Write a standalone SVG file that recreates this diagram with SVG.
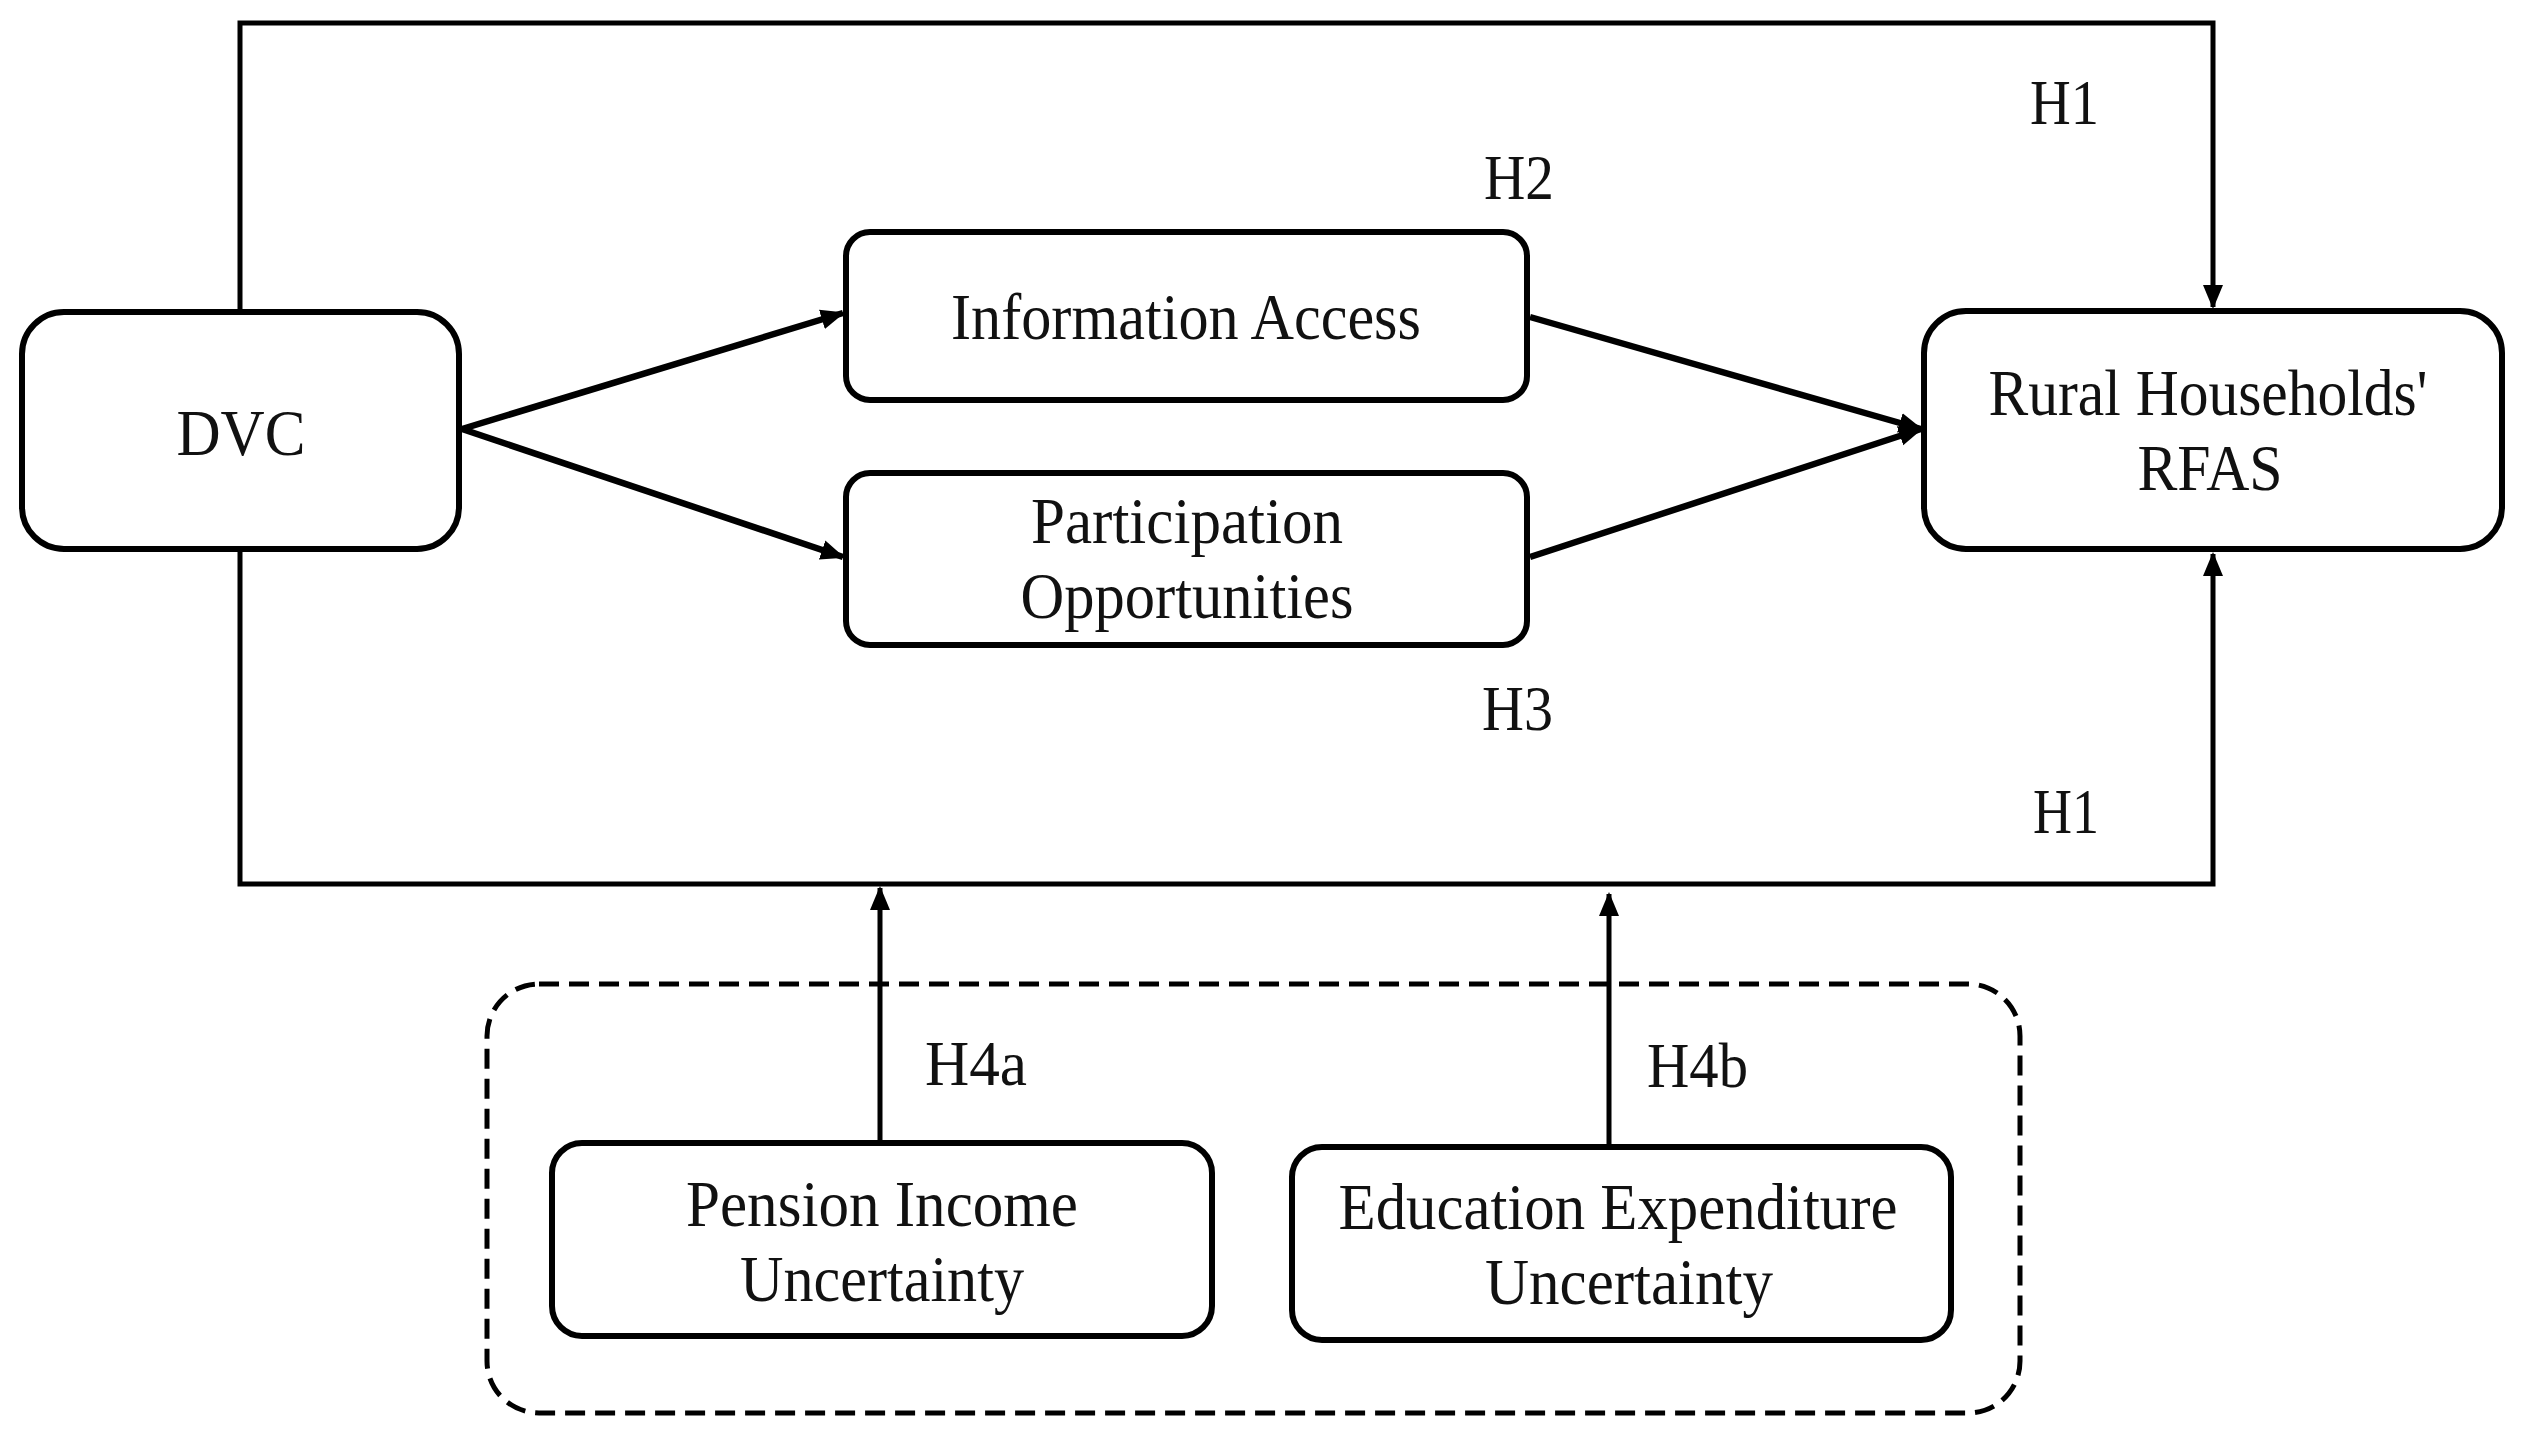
<svg xmlns="http://www.w3.org/2000/svg" width="2521" height="1439" viewBox="0 0 2521 1439">
<defs>
<marker id="arr" markerUnits="userSpaceOnUse" markerWidth="26" markerHeight="22" refX="22" refY="11" orient="auto">
<path d="M0,1 L24,11 L0,21 z" fill="#000"/>
</marker>
<style>
.box{fill:#fff;stroke:#000;stroke-width:6}
.dash{fill:none;stroke:#000;stroke-width:5;stroke-dasharray:20 10}
.con{fill:none;stroke:#000;stroke-width:5}
.thick{stroke-width:6.5}
.t{font-family:"Liberation Serif","Times New Roman",serif;font-size:66px;fill:#111;text-anchor:middle}
.h{font-family:"Liberation Serif","Times New Roman",serif;font-size:64px;fill:#111}
</style>
</defs>
<rect width="2521" height="1439" fill="#fff"/>

<g id="moderators-group">
<rect class="dash" x="487" y="984" width="1533" height="429" rx="52"/>
</g>

<g id="connectors">
<path class="con" d="M240,312 V23 H2213 V307" marker-end="url(#arr)"/>
<path class="con" d="M240,549 V884 H2213 V554" marker-end="url(#arr)"/>
<line class="con thick" x1="462" y1="429" x2="843" y2="313" marker-end="url(#arr)"/>
<line class="con thick" x1="462" y1="429" x2="843" y2="557" marker-end="url(#arr)"/>
<line class="con thick" x1="1530" y1="317" x2="1921" y2="429" marker-end="url(#arr)"/>
<line class="con thick" x1="1530" y1="557" x2="1921" y2="429" marker-end="url(#arr)"/>
<line class="con" x1="880" y1="1143" x2="880" y2="888" marker-end="url(#arr)"/>
<line class="con" x1="1609" y1="1147" x2="1609" y2="894" marker-end="url(#arr)"/>
</g>

<g id="labels">
<text class="h" x="2030" y="124" textLength="69" lengthAdjust="spacingAndGlyphs">H1</text>
<text class="h" x="1484" y="199" textLength="70" lengthAdjust="spacingAndGlyphs">H2</text>
<text class="h" x="1482" y="730" textLength="71" lengthAdjust="spacingAndGlyphs">H3</text>
<text class="h" x="2033" y="833" textLength="66" lengthAdjust="spacingAndGlyphs">H1</text>
<text class="h" x="925" y="1085" textLength="102" lengthAdjust="spacingAndGlyphs">H4a</text>
<text class="h" x="1647" y="1087" textLength="101" lengthAdjust="spacingAndGlyphs">H4b</text>
</g>

<g id="dvc">
<rect class="box" x="22" y="312" width="437" height="237" rx="42"/>
<text class="t" x="241" y="455" textLength="129" lengthAdjust="spacingAndGlyphs">DVC</text>
</g>

<g id="information-access">
<rect class="box" x="846" y="232" width="681" height="168" rx="24"/>
<text class="t" x="1186" y="339" textLength="470" lengthAdjust="spacingAndGlyphs">Information Access</text>
</g>

<g id="participation-opportunities">
<rect class="box" x="846" y="473" width="681" height="172" rx="24"/>
<text class="t" x="1187" y="543" textLength="312" lengthAdjust="spacingAndGlyphs">Participation</text>
<text class="t" x="1187" y="618" textLength="333" lengthAdjust="spacingAndGlyphs">Opportunities</text>
</g>

<g id="rural-households-rfas">
<rect class="box" x="1924" y="311" width="578" height="238" rx="42"/>
<text class="t" x="2208" y="415" textLength="439" lengthAdjust="spacingAndGlyphs">Rural Households'</text>
<text class="t" x="2210" y="490" textLength="145" lengthAdjust="spacingAndGlyphs">RFAS</text>
</g>

<g id="pension-income-uncertainty">
<rect class="box" x="552" y="1143" width="660" height="193" rx="30"/>
<text class="t" x="882" y="1226" textLength="392" lengthAdjust="spacingAndGlyphs">Pension Income</text>
<text class="t" x="882" y="1301" textLength="284" lengthAdjust="spacingAndGlyphs">Uncertainty</text>
</g>

<g id="education-expenditure-uncertainty">
<rect class="box" x="1292" y="1147" width="659" height="193" rx="30"/>
<text class="t" x="1618" y="1229" textLength="559" lengthAdjust="spacingAndGlyphs">Education Expenditure</text>
<text class="t" x="1629" y="1304" textLength="288" lengthAdjust="spacingAndGlyphs">Uncertainty</text>
</g>
</svg>
